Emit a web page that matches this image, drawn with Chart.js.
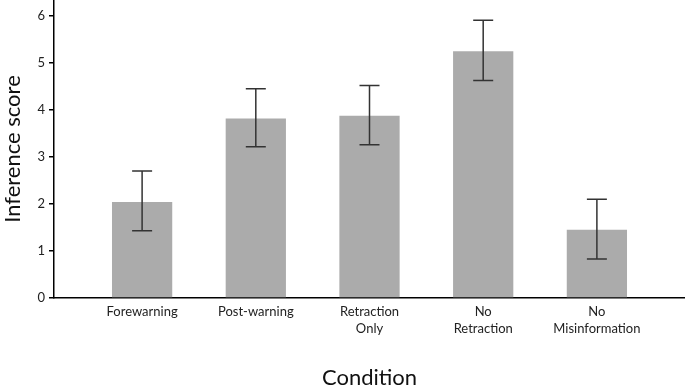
<!DOCTYPE html>
<html>
<head>
<meta charset="utf-8">
<script src="https://cdn.jsdelivr.net/npm/chart.js@4"></script>
<style>
  html, body { margin: 0; padding: 0; background: #fff; }
  #wrap { width: 685px; height: 387px; }
</style>
</head>
<body>
<div id="wrap"><canvas id="grafico"></canvas></div>
<script>
const categorias = [['Forewarning'], ['Post-warning'], ['Retraction', 'Only'], ['No', 'Retraction'], ['No', 'Misinformation']];
const medias = [2.04, 3.82, 3.88, 5.25, 1.45];
const errorBajo = [1.43, 3.22, 3.26, 4.63, 0.83];
const errorAlto = [2.70, 4.45, 4.52, 5.91, 2.10];
const ticksY = [0, 1, 2, 3, 4, 5, 6];

const fuente = 'Lato, "Liberation Sans", sans-serif';

// barras de error dibujadas sobre las barras
const barrasError = {
  id: 'barrasError',
  afterDatasetsDraw(chart) {
    const ctx = chart.ctx;
    const x = chart.scales.x;
    const y = chart.scales.y;
    ctx.save();
    ctx.strokeStyle = '#333';
    ctx.lineWidth = 1.5;
    medias.forEach((m, i) => {
      const px = x.getPixelForValue(i);
      const top = y.getPixelForValue(errorAlto[i]);
      const bot = y.getPixelForValue(errorBajo[i]);
      ctx.beginPath();
      ctx.moveTo(px, top); ctx.lineTo(px, bot);
      ctx.moveTo(px - 10, top); ctx.lineTo(px + 10, top);
      ctx.moveTo(px - 10, bot); ctx.lineTo(px + 10, bot);
      ctx.stroke();
    });
    ctx.restore();
  }
};

const ctx = document.getElementById('grafico').getContext('2d');
new Chart(ctx, {
  type: 'bar',
  data: {
    datasets: [{
      data: medias.map((v, i) => ({ x: i, y: v })),
      backgroundColor: '#ababab',
      borderWidth: 0,
      barPercentage: 0.53,
      categoryPercentage: 1
    }]
  },
  options: {
    responsive: true,
    maintainAspectRatio: false,
    animation: false,
    layout: { padding: 0 },
    plugins: {
      legend: { display: false },
      tooltip: { enabled: false }
    },
    scales: {
      x: {
        type: 'linear',
        offset: false,
        min: -0.775,
        max: 4.775,
        afterBuildTicks: s => { s.ticks = s.ticks.filter(t => Number.isInteger(t.value) && t.value >= 0 && t.value <= 4); },
        afterFit: s => { s.height = 89; },
        grid: { display: false },
        border: { color: '#000', width: 1.5 },
        ticks: {
          stepSize: 1,
          autoSkip: false,
          maxRotation: 0,
          padding: -3,
          color: '#222',
          font: { family: fuente, size: 13, lineHeight: 1.3 },
          callback: v => categorias[v] || ''
        },
        title: {
          display: true,
          text: 'Condition',
          color: '#111',
          font: { family: fuente, size: 22 },
          padding: { top: 20, bottom: -4 }
        }
      },
      y: {
        min: 0,
        max: 6.34,
        afterBuildTicks: s => { s.ticks = ticksY.map(v => ({ value: v })); },
        afterFit: s => { s.width = 54; s.paddingTop = 0; s.paddingBottom = 0; },
        grid: { drawOnChartArea: false, drawTicks: true, tickLength: 5, color: '#000', lineWidth: 1.5 },
        border: { color: '#000', width: 1.5 },
        ticks: {
          padding: 4,
          color: '#222',
          font: { family: fuente, size: 13 }
        },
        title: {
          display: true,
          text: 'Inference score',
          color: '#111',
          font: { family: fuente, size: 22 },
          padding: { top: 0, bottom: 4 }
        }
      }
    }
  },
  plugins: [barrasError]
});
</script>
</body>
</html>
